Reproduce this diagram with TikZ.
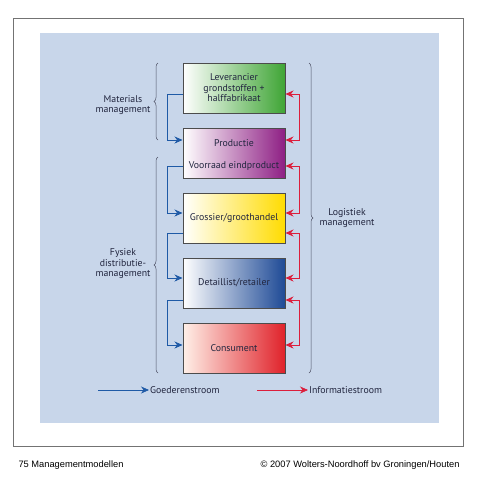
\documentclass[tikz,border=0pt]{standalone}
\usepackage{fontspec}
\setmainfont{Liberation Sans}
\newfontfamily\diagfont{PT Sans}
\usepackage{tikz}
\usetikzlibrary{calc,positioning,arrows.meta,decorations.pathreplacing}
\definecolor{panelblue}{HTML}{C8D6EA}
\definecolor{textnavy}{HTML}{22263F}
\definecolor{goodsblue}{HTML}{1F5AA6}
\definecolor{inforred}{HTML}{DC1E3C}
\definecolor{levgreen}{HTML}{3FA535}
\definecolor{prodpurple}{HTML}{8E1F84}
\definecolor{grosyellow}{HTML}{FFDC00}
\definecolor{detblue}{HTML}{1E4A96}
\definecolor{consred}{HTML}{E0222A}
\definecolor{conspeach}{HTML}{FFF0E8}

\tikzset{
  chainbox/.style={draw=black!70, line width=1pt, minimum width=102pt,
    minimum height=50pt, inner sep=2pt, align=center, text=textnavy,
    font=\diagfont\fontsize{9.8}{10.5}\selectfont},
  sidelabel/.style={align=center, text=textnavy,
    font=\diagfont\fontsize{9.8}{10.5}\selectfont},
  goods/.style={draw=goodsblue, line width=0.7pt, -{Stealth[length=8pt,width=7pt]}},
  info/.style={draw=inforred, line width=0.7pt,
    {Stealth[length=8pt,width=7pt]}-{Stealth[length=8pt,width=7pt]}},
  bracket/.style={draw=textnavy!80, line width=0.5pt,
    decorate, decoration={brace, amplitude=4pt}}
}

\begin{document}
\begin{tikzpicture}[x=1pt, y=-1pt]
  \useasboundingbox (0,0) rectangle (480,480);
  \draw[black!55, line width=0.8pt] (13,18) rectangle (463,446);
  \fill[panelblue] (40,33) rectangle (439,423);

  % supply chain
  \node[chainbox, left color=white, right color=levgreen] (lev) at (234,88)
    {Leverancier\\grondstoffen +\\halffabrikaat};
  \node[chainbox, left color=white, right color=prodpurple] (prod) at (234,153) {};
  \node[text=textnavy, font=\diagfont\fontsize{9.8}{10.5}\selectfont] (prodtxt) at (234,143) {Productie};
  \node[text=textnavy, font=\diagfont\fontsize{9.8}{10.5}\selectfont] (voorraad) at (234,166) {Voorraad eindproduct};
  \node[chainbox, left color=white, right color=grosyellow] (gros) at (234,218) {Grossier/groothandel};
  \node[chainbox, left color=white, right color=detblue] (det) at (234,283) {Detaillist/retailer};
  \node[chainbox, left color=conspeach, right color=consred] (cons) at (234,348) {Consument};

  % flows between the boxes
  \foreach \from/\to/\dout/\din in {lev/prod/6/-13, prod/gros/13/-5, gros/det/15/-5, det/cons/17/-3} {
    \draw[goods] ($(\from.west)+(0,\dout)$) -- ++(-15,0) |- ($(\to.west)+(0,\din)$);
    \draw[info] ($(\from.east)+(0,\dout)$) -- ++(14,0) |- ($(\to.east)+(0,\din)$);
  }

  % braces
  \coordinate (matbot) at (158,140);
  \coordinate (mattop) at (158,63);
  \draw[bracket] (matbot) -- (mattop);
  \node[sidelabel] (matlabel) at (123,105) {Materials\\management};
  \coordinate (fysbot) at (158,373);
  \coordinate (fystop) at (158,157);
  \draw[bracket] (fysbot) -- (fystop);
  \node[sidelabel] (fyslabel) at (123,264) {Fysiek\\distributie-\\management};
  \coordinate (logtop) at (309,63);
  \coordinate (logbot) at (309,373);
  \draw[bracket] (logtop) -- (logbot);
  \node[sidelabel] (loglabel) at (347,218) {Logistiek\\management};

  % legend
  \node[sidelabel, anchor=west, inner sep=1pt] (goodslabel) at (149,390) {Goederenstroom};
  \coordinate (goodsstart) at (98,390);
  \draw[goods] (goodsstart) -- (goodslabel.west);
  \node[sidelabel, anchor=west, inner sep=1pt] (infolabel) at (308,390) {Informatiestroom};
  \coordinate (infostart) at (257,390);
  \draw[draw=inforred, line width=0.7pt, -{Stealth[length=8pt,width=7pt]}] (infostart) -- (infolabel.west);

  % footer
  \node[anchor=west, font=\fontsize{9.3}{11}\selectfont] (booktitle) at (15,465) {75 Managementmodellen};
  \node[anchor=east, font=\fontsize{9.3}{11}\selectfont] (copyright) at (463,465) {© 2007 Wolters-Noordhoff bv Groningen/Houten};
\end{tikzpicture}
\end{document}
